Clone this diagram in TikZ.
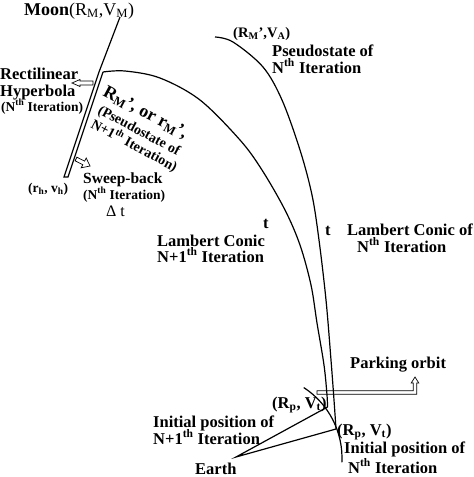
\documentclass[tikz,border=0pt]{standalone}
\usepackage{fontspec}
\setmainfont{Liberation Serif}

\tikzset{
  orbit/.style={line width=1.2pt},
  hollowarrow/.style={line width=0.7pt,line join=miter},
  txt/.style={anchor=base west,inner sep=0pt,font=\fontsize{16.5}{17}\selectfont\bfseries},
  smalltxt/.style={txt,font=\fontsize{13.5}{15}\selectfont\bfseries},
  slanted/.style={anchor=base west,inner sep=0pt,rotate=-28}
}

\begin{document}
\begin{tikzpicture}[x=1pt,y=-1pt]
\useasboundingbox (0,0) rectangle (474,477);

% points of the orbits
\coordinate (moon) at (120,17);
\coordinate (hypTop) at (99,72);
\coordinate (hypTopR) at (103,72);
\coordinate (hypBot) at (64,177);
\coordinate (hypBotR) at (68,177);
\coordinate (pseudoA) at (215,37);
\coordinate (earth) at (236,457);
\coordinate (pvNext) at (327.5,407);
\coordinate (pvN) at (336,429);
\coordinate (parkc) at (258,458);

% moon line and rectilinear hyperbola
\draw[orbit] (moon) -- (hypTop) -- (hypBot) -- (hypBotR) -- (hypTopR);

% Lambert conic, N+1th iteration
\draw[orbit] plot[smooth,tension=0.55] coordinates {(hypTopR) (125,71) (160,78) (200,100) (240,140) (262,170) (285,210) (300,245) (311,285) (317,323) (324,365) (327,395) (pvNext)};

% Lambert conic, Nth iteration
\draw[orbit] plot[smooth,tension=0.55] coordinates {(pseudoA) (233,42) (263,67) (282,100) (300,150) (312,195) (319,240) (326,300) (331,360) (334,400) (pvN)};

% parking orbit
\draw[orbit] ([shift={(-57:84)}]parkc) arc[start angle=-57,end angle=3,radius=84];
\draw[orbit] (pvNext) -- (earth) -- (pvN);

% hollow arrows
\draw[hollowarrow] (93,81) -- (80,81) -- (80,79.5) -- (72,83) -- (80,86.5) -- (80,85) -- (93,85) -- cycle;
\draw[hollowarrow] (76.9,157.2) -- (84.6,161.1) -- (86.2,158.0) -- (90,166) -- (81.2,167.8) -- (82.8,164.7) -- (75.1,160.8) -- cycle;
\draw[hollowarrow] (317,390.8) -- (413.3,390.8) -- (413.3,383) -- (411.2,383) -- (415,377) -- (418.8,383) -- (416.7,383) -- (416.7,394.2) -- (317,394.2) -- cycle;

% labels
\node[txt,font=\fontsize{18}{18}\selectfont] (moonlbl) at (24,15) {\textbf{Moon}(R\textsubscript{M},V\textsubscript{M})};
\node[txt,font=\fontsize{14.5}{15}\selectfont\bfseries] (pseudoAlbl) at (233,37) {(R\textsubscript{M}',V\textsubscript{A})};
\node[txt] (pseudoA1) at (272,56) {Pseudostate of};
\node[txt] (pseudoA2) at (272,73) {N\textsuperscript{th} Iteration};
\node[txt] (recti1) at (0,79) {Rectilinear};
\node[txt] (recti2) at (0,96) {Hyperbola};
\node[smalltxt] (recti3) at (1,111) {(N\textsuperscript{th} Iteration)};
\node[slanted,font=\fontsize{18}{18}\selectfont\bfseries] (pseudoNext1) at (102,95) {R\textsubscript{M}', or r\textsubscript{M}',};
\node[slanted,font=\fontsize{14}{15}\selectfont\bfseries] (pseudoNext2) at (97,113) {(Pseudostate of};
\node[slanted,font=\fontsize{14}{15}\selectfont\bfseries] (pseudoNext3) at (90,127) {N+1\textsuperscript{th} Iteration)};
\node[smalltxt] (rhvh) at (28,192) {(r\textsubscript{h}, v\textsubscript{h})};
\node[txt,font=\fontsize{15.5}{16}\selectfont\bfseries] (sweep1) at (83,183) {Sweep-back};
\node[smalltxt] (sweep2) at (83,199) {(N\textsuperscript{th} Iteration)};
\node[txt,font=\fontsize{16}{16}\selectfont] (dt) at (106,216) {Δ t};
\node[txt] (tNext) at (263,228) {t};
\node[txt] (tN) at (325,235) {t};
\node[txt] (lambN1) at (347,235) {Lambert Conic of};
\node[txt] (lambN2) at (357,252) {N\textsuperscript{th} Iteration};
\node[txt] (lambNext1) at (157,246) {Lambert Conic};
\node[txt] (lambNext2) at (157,262) {N+1\textsuperscript{th} Iteration};
\node[txt] (parking) at (350,368) {Parking orbit};
\node[txt] (pvNextlbl) at (272,408) {(R\textsubscript{p}, V\textsubscript{t})};
\node[txt] (initNext1) at (153,427) {Initial position of};
\node[txt] (initNext2) at (153,444) {N+1\textsuperscript{th} Iteration};
\node[txt] (earthlbl) at (195,474) {Earth};
\node[txt] (pvNlbl) at (337,435) {(R\textsubscript{p}, V\textsubscript{t})};
\node[txt] (initN1) at (344,453) {Initial position of};
\node[txt] (initN2) at (348,473) {N\textsuperscript{th} Iteration};
\end{tikzpicture}
\end{document}
